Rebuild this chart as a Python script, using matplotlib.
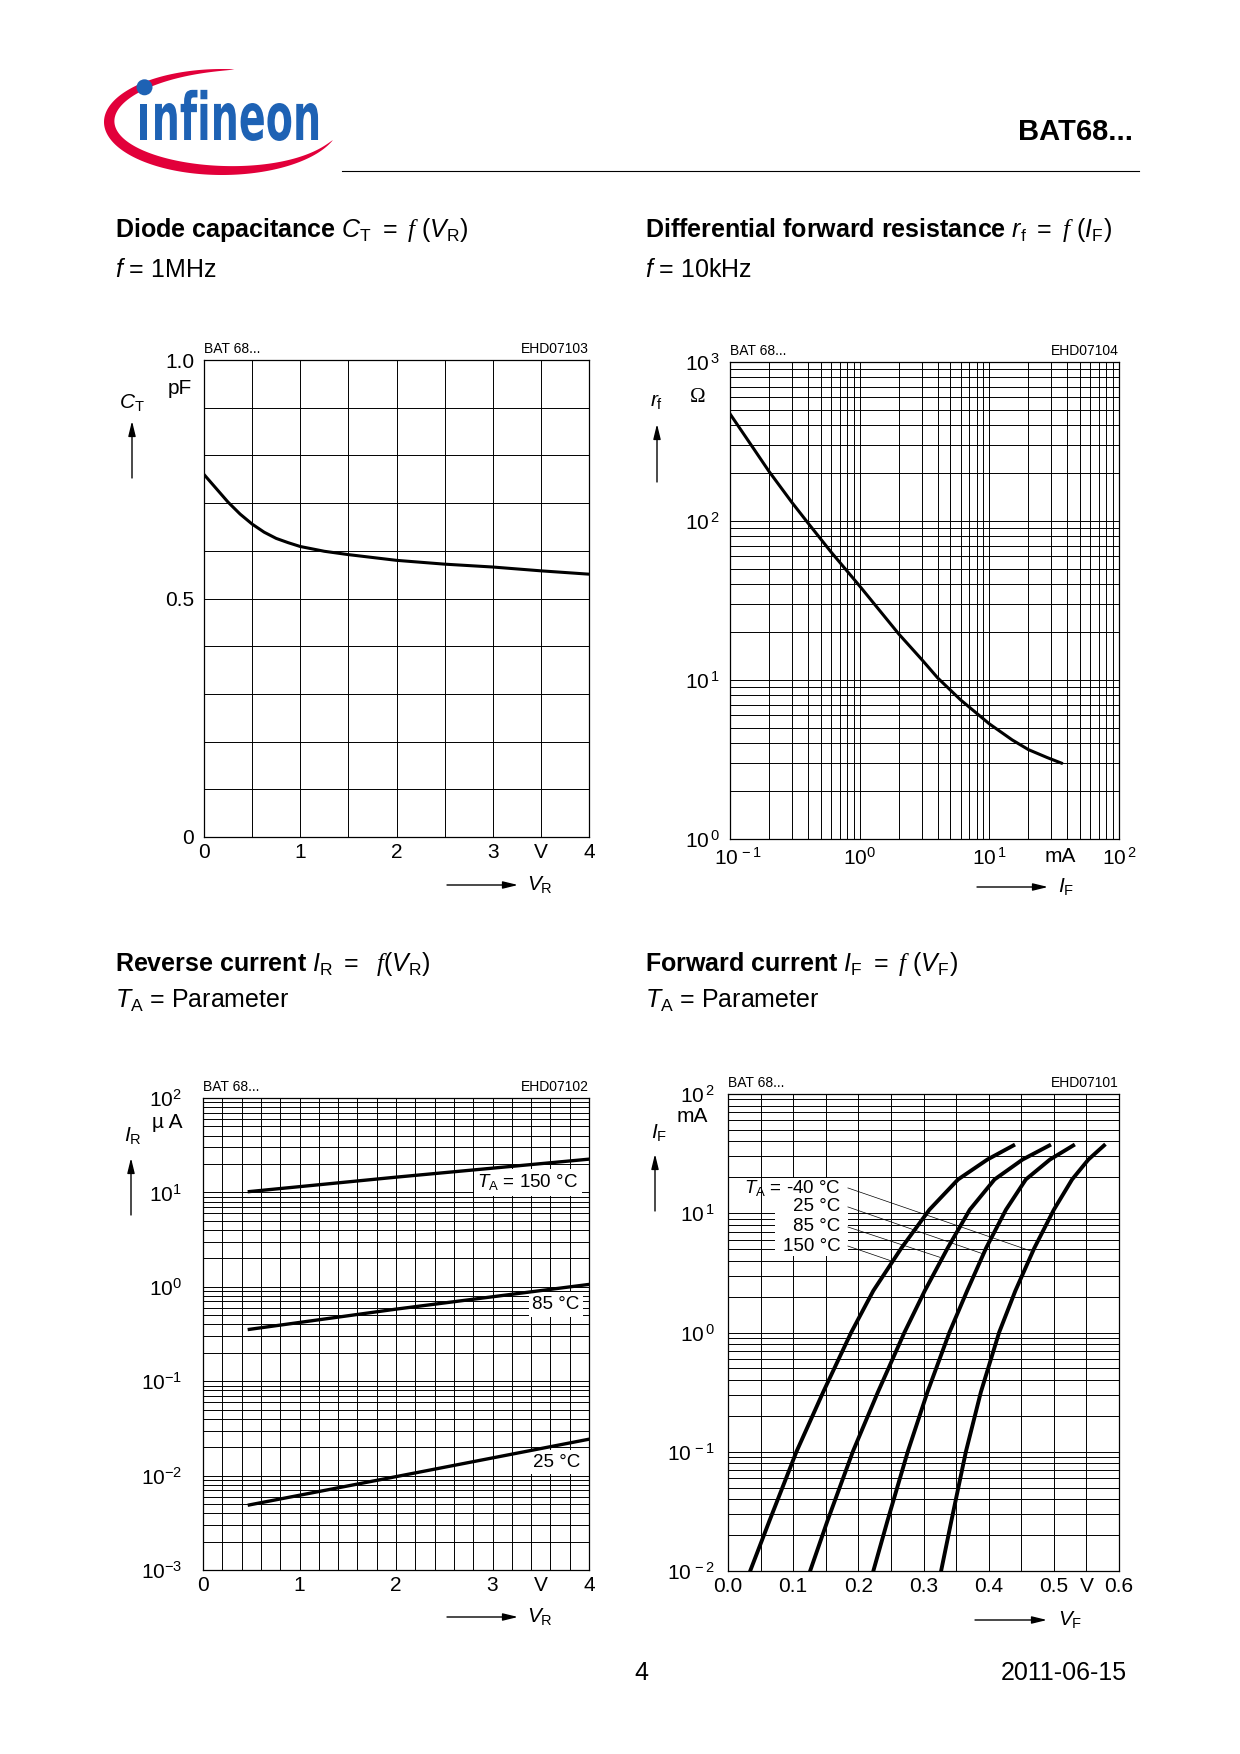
import numpy as np
import matplotlib
matplotlib.use("Agg")
import matplotlib.pyplot as plt
from matplotlib.patches import Polygon, Circle, Rectangle, PathPatch
from matplotlib.textpath import TextPath
from matplotlib.font_manager import FontProperties
from matplotlib.transforms import Affine2D, ScaledTranslation
from matplotlib.ticker import MultipleLocator, NullFormatter

plt.rcParams['font.family'] = ['Liberation Sans', 'DejaVu Sans']
plt.rcParams['mathtext.fontset'] = 'custom'
plt.rcParams['mathtext.rm'] = 'Liberation Sans'
plt.rcParams['mathtext.it'] = 'Liberation Sans:italic'
plt.rcParams['mathtext.bf'] = 'Liberation Sans:bold'
plt.rcParams['mathtext.sf'] = 'Liberation Serif:italic'

# diode capacitance C_T (pF) vs V_R (V)
vr_ct = [0, 0.125, 0.25, 0.375, 0.5, 0.625, 0.75, 0.875, 1, 1.25, 1.5, 2, 2.5, 3, 3.5, 4]
ct = [0.760, 0.731, 0.702, 0.677, 0.656, 0.639, 0.626, 0.617, 0.609, 0.599, 0.592,
      0.580, 0.572, 0.566, 0.558, 0.551]

# differential forward resistance r_f (Ohm) vs I_F (mA)
if_rf = [0.1, 0.15, 0.2, 0.3, 0.4, 0.6, 1, 1.5, 2, 3, 4, 6, 10, 15, 20, 28, 36]
rf = [472, 290, 205, 131, 97, 64, 39, 26, 19.5, 13.5, 10.3, 7.5, 5.3, 4.2, 3.65, 3.25, 3.0]

# reverse current I_R (uA) vs V_R (V)
vr_ir = [0.48, 2, 4]
ir_150 = [10.2, 14.5, 22.5]
ir_85 = [0.354, 0.58, 1.06]
ir_25 = [0.00489, 0.00975, 0.0243]

# forward current I_F (mA) vs V_F (V)
if_fw = [0.01, 0.0267, 0.1, 0.316, 1.0, 2.24, 5.1, 10.7, 19.2, 28.2, 37]
vf_150 = [0.034, 0.064, 0.105, 0.146, 0.189, 0.223, 0.266, 0.309, 0.353, 0.398, 0.4378]
vf_85 = [0.126, 0.153, 0.1915, 0.230, 0.2707, 0.302, 0.337, 0.371, 0.409, 0.452, 0.493]
vf_25 = [0.223, 0.245, 0.2758, 0.306, 0.3397, 0.367, 0.396, 0.4265, 0.457, 0.494, 0.5297]
vf_m40 = [0.327, 0.343, 0.365, 0.388, 0.416, 0.441, 0.470, 0.500, 0.528, 0.553, 0.577]

W, H = 1240, 1754
red = '#e2003a'
blue = '#1e62b4'
fig = plt.figure(figsize=(W / 100, H / 100), dpi=100)

page = fig.add_axes([0, 0, 1, 1])
page.set_xlim(0, W)
page.set_ylim(H, 0)
page.axis('off')


def px_axes(l, t, r, b):
    return fig.add_axes([l / W, 1 - b / H, (r - l) / W, (b - t) / H])


def style(ax, ypad, xpad=4):
    ax.tick_params(which='both', length=0, labelsize=15)
    ax.tick_params(axis='x', pad=xpad)
    ax.tick_params(axis='y', pad=ypad)
    for s in ax.spines.values():
        s.set_linewidth(0.9)
    ax.xaxis.remove_overlapping_locs = False
    ax.yaxis.remove_overlapping_locs = False
    ax.grid(False, which='major')
    ax.grid(True, which='minor', color='black', lw=0.7)
    ax.set_axisbelow(True)


def log_minor(lo, hi):
    return [m * 10.0 ** e for e in range(lo, hi) for m in range(1, 10)] + [10.0 ** hi]


def corner_texts(ax, code):
    ax.text(0, 1.008, 'BAT 68...', transform=ax.transAxes, ha='left', va='bottom', fontsize=10)
    ax.text(1, 1.008, code, transform=ax.transAxes, ha='right', va='bottom', fontsize=10)


def up_arrow(x, y0, y1):
    page.annotate('', xy=(x, y1), xytext=(x, y0),
                  arrowprops=dict(arrowstyle='-|>,head_length=0.9,head_width=0.22',
                                  color='black', lw=1.0, shrinkA=0, shrinkB=0))


def right_arrow(x0, x1, y):
    page.annotate('', xy=(x1, y), xytext=(x0, y),
                  arrowprops=dict(arrowstyle='-|>,head_length=0.9,head_width=0.22',
                                  color='black', lw=1.0, shrinkA=0, shrinkB=0))


# ---- page header: logo, part number, rule
theta = np.radians(np.linspace(20, 276, 200))
cx, cy, a, b = 222, 122, 118, 53
w = 11 * np.sin(np.pi * (theta - theta[0]) / (theta[-1] - theta[0])) ** 0.7
outer = np.column_stack([cx + a * np.cos(theta), cy + b * np.sin(theta)])
inner = np.column_stack([cx + (a - w) * np.cos(theta), cy + (b - w) * np.sin(theta)])
page.add_patch(Polygon(np.vstack([outer, inner[::-1]]), closed=True, fc=red, ec='none'))
fp = FontProperties(family='DejaVu Sans', weight='bold')
tp = TextPath((0, 0), 'nfineon', size=66, prop=fp)
tr = Affine2D().scale(0.6, -1).translate(151.7, 140) + page.transData
page.add_patch(PathPatch(tp, fc=blue, ec='none', transform=tr))
page.add_patch(Rectangle((140, 104), 7, 36, fc=blue, ec='none'))
page.add_patch(Circle((144.5, 87.3), 8, fc=blue, ec='none'))

page.text(1133, 140, 'BAT68...', ha='right', va='baseline', fontsize=21, fontweight='bold')
page.plot([342, 1139], [171, 171], color='black', lw=0.8)

# ---- section titles
page.text(115, 236.7, r'$\mathbf{Diode\ capacitance}\ C_\mathrm{T}\ =\ \mathsf{f}\ (V_\mathrm{R})$',
          fontsize=18, va='baseline')
page.text(115, 276.7, r'$f$ = 1MHz', fontsize=18, va='baseline')
page.text(645, 236.7, r'$\mathbf{Differential\ forward\ resistance}\ r_\mathrm{f}\ =\ \mathsf{f}\ (I_\mathrm{F})$',
          fontsize=18, va='baseline')
page.text(645, 276.7, r'$f$ = 10kHz', fontsize=18, va='baseline')
page.text(115, 970.7, r'$\mathbf{Reverse\ current}\ I_\mathrm{R}\ =\ \ \mathsf{f}(V_\mathrm{R})$',
          fontsize=18, va='baseline')
page.text(115, 1008.3, r'$T_\mathrm{A}$ = Parameter', fontsize=18, va='baseline')
page.text(645, 970.7, r'$\mathbf{Forward\ current}\ I_\mathrm{F}\ =\ \mathsf{f}\ (V_\mathrm{F})$',
          fontsize=18, va='baseline')
page.text(645, 1008.3, r'$T_\mathrm{A}$ = Parameter', fontsize=18, va='baseline')

# ---- footer
page.text(641, 1680, '4', ha='center', va='baseline', fontsize=18)
page.text(1127, 1680, '2011-06-15', ha='right', va='baseline', fontsize=18)

# ---- chart 1: capacitance
ax1 = px_axes(204, 360, 589, 837)
ax1.plot(vr_ct, ct, color='black', lw=2.2, zorder=4)
ax1.set_xlim(0, 4)
ax1.set_ylim(0, 1.0)
ax1.set_xticks([0, 1, 2, 3, 3.5, 4], ['0', '1', '2', '3', 'V', '4'])
ax1.set_yticks([0, 0.5, 1.0], ['0', '0.5', '1.0'])
ax1.xaxis.set_minor_locator(MultipleLocator(0.5))
ax1.yaxis.set_minor_locator(MultipleLocator(0.1))
style(ax1, 7)
corner_texts(ax1, 'EHD07103')
page.text(192, 389, 'pF', ha='right', va='center', fontsize=15)
page.text(119, 403, r'$C_\mathrm{T}$', ha='left', va='center', fontsize=15)
up_arrow(132, 478, 421)
right_arrow(447, 518, 885)
page.text(527, 885, r'$V_\mathrm{R}$', ha='left', va='center', fontsize=15)

# ---- chart 2: differential resistance
ax2 = px_axes(730, 362, 1119, 839)
ax2.plot(if_rf, rf, color='black', lw=2.2, zorder=4)
ax2.set_xscale('log')
ax2.set_yscale('log')
ax2.set_xlim(0.1, 100)
ax2.set_ylim(1, 1000)
ax2.set_xticks([0.1, 1, 10, 35, 100],
               [r'$10^{\,-1}$', r'$10^{0}$', r'$10^{\,1}$', 'mA', r'$10^{\,2}$'])
ax2.set_yticks([1, 10, 100, 1000],
               [r'$10^{\,0}$', r'$10^{\,1}$', r'$10^{\,2}$', r'$10^{\,3}$'])
ax2.set_xticks(log_minor(-1, 2), minor=True)
ax2.set_yticks(log_minor(0, 3), minor=True)
ax2.xaxis.set_minor_formatter(NullFormatter())
ax2.yaxis.set_minor_formatter(NullFormatter())
style(ax2, 7, xpad=6)
first = ax2.get_xticklabels()[0]
first.set_transform(first.get_transform() + ScaledTranslation(0.08, 0, fig.dpi_scale_trans))
corner_texts(ax2, 'EHD07104')
page.text(698, 397, '\u03a9', ha='center', va='center', fontsize=15,
          family=['Liberation Serif', 'DejaVu Serif'])
page.text(650, 402, r'$r_\mathrm{f}$', ha='left', va='center', fontsize=15)
up_arrow(657, 482, 424)
right_arrow(977, 1048, 887)
page.text(1058, 887, r'$I_\mathrm{F}$', ha='left', va='center', fontsize=15)

# ---- chart 3: reverse current
ax3 = px_axes(203, 1098, 589, 1570)
for vals in (ir_150, ir_85, ir_25):
    ax3.plot(vr_ir, vals, color='black', lw=2.4, zorder=4)
ax3.set_yscale('log')
ax3.set_xlim(0, 4)
ax3.set_ylim(1e-3, 1e2)
ax3.set_xticks([0, 1, 2, 3, 3.5, 4], ['0', '1', '2', '3', 'V', '4'])
ax3.set_yticks([1e-3, 1e-2, 1e-1, 1, 10, 100],
               [r'$10^{-3}$', r'$10^{-2}$', r'$10^{-1}$', r'$10^{0}$', r'$10^{1}$', r'$10^{2}$'])
ax3.xaxis.set_minor_locator(MultipleLocator(0.2))
ax3.set_yticks(log_minor(-3, 2), minor=True)
ax3.yaxis.set_minor_formatter(NullFormatter())
style(ax3, 15)
corner_texts(ax3, 'EHD07102')
box = dict(fc='white', ec='none', pad=2.5)
ax3.text(3.89, 10 ** 1.109, r'$T_\mathrm{A}$ = 150 °C', ha='right', va='center', fontsize=13.5, bbox=box, zorder=3)
ax3.text(3.90, 10 ** -0.188, '85 °C', ha='right', va='center', fontsize=13.5, bbox=box, zorder=3)
ax3.text(3.91, 10 ** -1.857, '25 °C', ha='right', va='center', fontsize=13.5, bbox=box, zorder=3)
page.text(183, 1123, '\u00b5 A', ha='right', va='center', fontsize=15)
page.text(124, 1136, r'$I_\mathrm{R}$', ha='left', va='center', fontsize=15)
up_arrow(131, 1215, 1158)
right_arrow(447, 518, 1617)
page.text(527, 1617, r'$V_\mathrm{R}$', ha='left', va='center', fontsize=15)

# ---- chart 4: forward current
ax4 = px_axes(728, 1094, 1119, 1571)
for vals in (vf_150, vf_85, vf_25, vf_m40):
    ax4.plot(vals, if_fw, color='black', lw=2.8, zorder=4)
ax4.set_yscale('log')
ax4.set_xlim(0, 0.6)
ax4.set_ylim(1e-2, 1e2)
ax4.set_xticks([0, 0.1, 0.2, 0.3, 0.4, 0.5, 0.55, 0.6],
               ['0.0', '0.1', '0.2', '0.3', '0.4', '0.5', 'V', '0.6'])
ax4.set_yticks([1e-2, 1e-1, 1, 10, 100],
               [r'$10^{\,-2}$', r'$10^{\,-1}$', r'$10^{\,0}$', r'$10^{\,1}$', r'$10^{\,2}$'])
ax4.xaxis.set_minor_locator(MultipleLocator(0.05))
ax4.set_yticks(log_minor(-2, 2), minor=True)
ax4.yaxis.set_minor_formatter(NullFormatter())
style(ax4, 9.5)
corner_texts(ax4, 'EHD07101')
ax4.add_patch(Rectangle((0.120, 0.660), 0.187, 0.164, transform=ax4.transAxes,
                        fc='white', ec='none', zorder=2))
temps = [r'$T_\mathrm{A}$ = -40 °C', '25 °C', '85 °C', '150 °C']
label_y = [16.3, 11.3, 7.67, 5.31]
lead_end = [(0.468, 4.76), (0.389, 4.61), (0.3253, 4.27), (0.2537, 3.93)]
for t, ly, (ex, ey) in zip(temps, label_y, lead_end):
    ax4.text(0.173, ly, t, ha='right', va='center', fontsize=13.5, zorder=3)
    ax4.plot([0.184, ex], [ly, ey], color='black', lw=0.5, zorder=3)
page.text(708, 1117, 'mA', ha='right', va='center', fontsize=15)
page.text(651, 1133, r'$I_\mathrm{F}$', ha='left', va='center', fontsize=15)
up_arrow(655, 1211, 1154)
right_arrow(975, 1047, 1620)
page.text(1058, 1620, r'$V_\mathrm{F}$', ha='left', va='center', fontsize=15)

fig.savefig('out.png', dpi=100)
